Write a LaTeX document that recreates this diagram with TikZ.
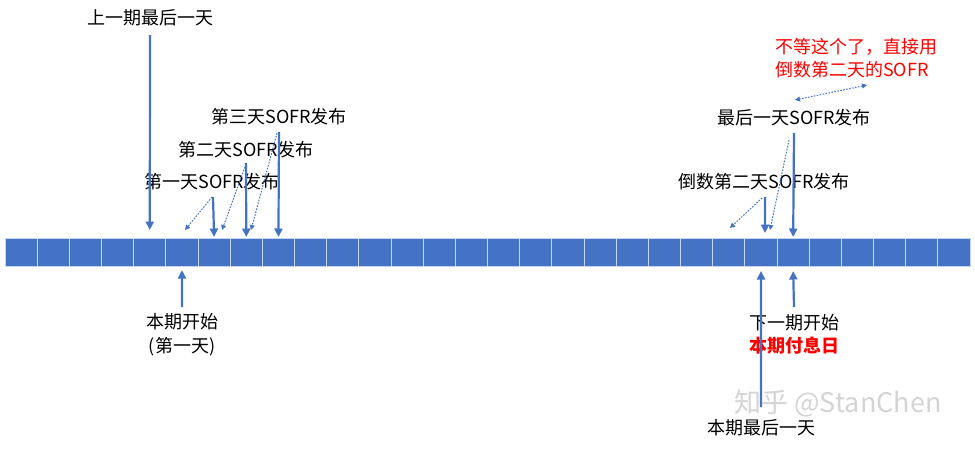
\documentclass[tikz,border=0pt]{standalone}
\usepackage{fontspec}
\setmainfont{Noto Sans CJK SC}
\usetikzlibrary{arrows.meta}
\definecolor{bblue}{HTML}{4472C4}
\definecolor{lborder}{HTML}{C5D5EE}
\definecolor{rred}{HTML}{FF0000}
\definecolor{wmark}{HTML}{D4D4D4}
\begin{document}
\begin{tikzpicture}[x=1pt,y=-1pt,
 cell/.style={draw=lborder, fill=bblue, line width=0.9pt, minimum width=32.17pt, minimum height=28pt, inner sep=0pt, outer sep=0pt},
 lab/.style={font=\fontsize{18}{20}\selectfont, inner sep=0pt},
 redlab/.style={lab, text=rred},
 sarrow/.style={draw=bblue, line width=2.2pt, -{Triangle[length=8.5pt,width=8pt]}},
 darrow/.style={draw=bblue, line width=1pt, dash pattern=on 1.6pt off 1.4pt, -{Triangle[length=5pt,width=5pt]}},
 ddarrow/.style={darrow, {Triangle[length=5pt,width=5pt]}-{Triangle[length=5pt,width=5pt]}},
]
\useasboundingbox (0,0) rectangle (975,448);
% watermark
\node[inner sep=0pt, text=wmark, font=\fontsize{27}{30}\selectfont] (wm) at (838,403) {知乎 @StanChen};
% timeline cells
\foreach \i in {0,...,29} \node[cell] (c\i) at ({5+32.17*\i+16.085},252) {};
% left labels
\node[lab] (l1) at (150,18) {上一期最后一天};
\node[lab] (l2) at (212,182) {第一天SOFR发布};
\node[lab] (l3) at (246,150) {第二天SOFR发布};
\node[lab] (l4) at (279,117) {第三天SOFR发布};
\node[lab] (l5) at (182,322) {本期开始};
\node[lab] (l6) at (182,347) {(第一天)};
% right labels
\node[redlab, anchor=west] (r1) at (775,47) {不等这个了，直接用};
\node[redlab, anchor=west] (r2) at (775,70) {倒数第二天的SOFR};
\node[lab] (l7) at (794,118) {最后一天SOFR发布};
\node[lab] (l8) at (764,182) {倒数第二天SOFR发布};
\node[lab] (l9) at (794,323) {下一期开始};
\node[redlab, font=\fontsize{18}{20}\selectfont\bfseries] (l10) at (794,346) {本期付息日};
\node[lab] (l11) at (761,428) {本期最后一天};
% coordinates
\coordinate (s1) at (150,35);
\coordinate (s2) at (213,197);
\coordinate (d2s) at (212,197);
\coordinate (d2e) at (185,230);
\coordinate (s3) at (246,163);
\coordinate (d3s) at (245,167);
\coordinate (d3e) at (222,230);
\coordinate (s4) at (279,132);
\coordinate (d4s) at (277,133);
\coordinate (d4e) at (251,230);
\coordinate (s5) at (182,307);
\coordinate (s7) at (794,133);
\coordinate (d7s) at (789,140);
\coordinate (d7e) at (770,230);
\coordinate (s8) at (765,197);
\coordinate (d8s) at (762,198);
\coordinate (d8e) at (730,228);
\coordinate (s9) at (794,307);
\coordinate (s11) at (761,407);
\coordinate (dda) at (867,85);
\coordinate (ddb) at (795,100);
% arrows
\draw[sarrow] (s1) -- ([yshift=8pt]c4.north);
\draw[sarrow] (s2) -- ([yshift=1pt]c6.north);
\draw[darrow] (d2s) -- (d2e);
\draw[sarrow] (s3) -- ([yshift=1pt]c7.north);
\draw[darrow] (d3s) -- (d3e);
\draw[sarrow] (s4) -- ([yshift=1pt]c8.north);
\draw[darrow] (d4s) -- (d4e);
\draw[sarrow] (s5) -- ([yshift=-4pt]c5.south);
\draw[sarrow] (s7) -- ([yshift=1pt]c24.north);
\draw[darrow] (d7s) -- (d7e);
\draw[sarrow] (s8) -- ([xshift=4pt,yshift=5pt]c23.north);
\draw[darrow] (d8s) -- (d8e);
\draw[sarrow] (s9) -- ([yshift=-5pt]c24.south);
\draw[sarrow] (s11) -- ([yshift=-5pt]c23.south);
\draw[ddarrow] (dda) -- (ddb);
\end{tikzpicture}
\end{document}
